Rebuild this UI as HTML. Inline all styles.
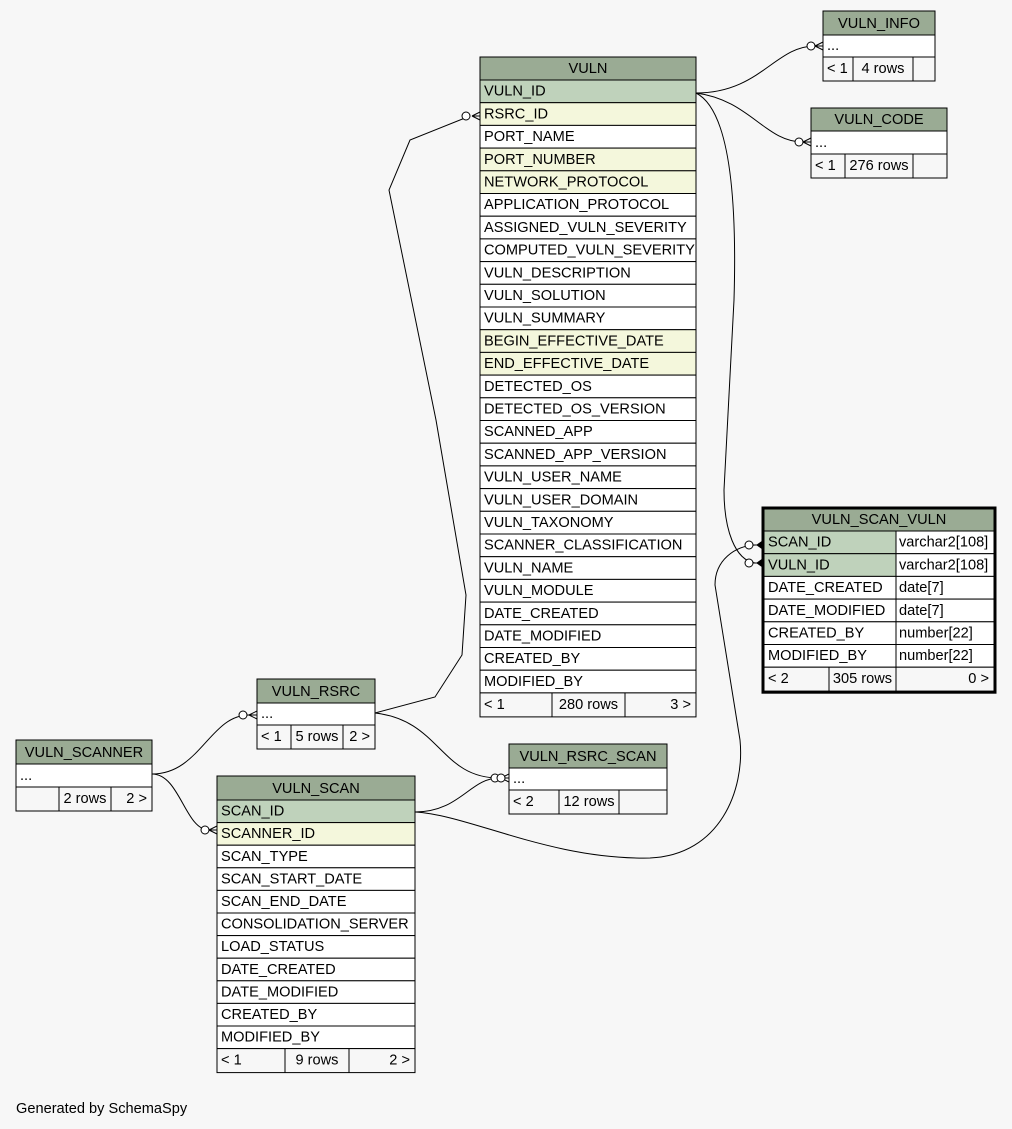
<!DOCTYPE html>
<html><head><meta charset="utf-8"><style>
html,body{margin:0;padding:0;background:#f7f7f7;}
svg{display:block;font-family:"Liberation Sans","DejaVu Sans",sans-serif;}
</style></head><body>
<svg id="s" width="1012" height="1129" viewBox="0 0 1012 1129" xmlns="http://www.w3.org/2000/svg">
<rect width="1012" height="1129" fill="#f7f7f7"/>
<g fill="none" stroke="#000" stroke-width="1">
<path d="M696,93 C760,93 775,46 815,46"/>
<path d="M696,93 C750,100 765,142 803,142"/>
<path d="M696,93 C730,110 737,200 734,300 L724,490 C724,530 735,560 755,563"/>
<path d="M375,713 L435,697 L462,655 L466,595 L436,420 L389,190 L410,140 L470,116"/>
<path d="M152,774 C200,774 210,715 249,715"/>
<path d="M152,774 C180,774 185,830 209,830"/>
<path d="M375,713 C440,720 440,778 499,778"/>
<path d="M415,812 C460,812 470,778 499,778"/>
<path d="M415,812 C470,815 550,860 650,858 C720,855 745,790 740,740 L715,585 C715,560 735,546 755,545"/>
</g>
<g id="marks" fill="#fff" stroke="#000"></g>
<text x="16" y="1113" font-size="14.6" fill="#000">Generated by SchemaSpy</text>
</svg>
<script>
const S=document.getElementById('s');const NS='http://www.w3.org/2000/svg';
const FS=14.6;
function el(t,a,txt,p){const e=document.createElementNS(NS,t);for(const k in a)e.setAttribute(k,a[k]);if(txt!=null)e.textContent=txt;(p||S).appendChild(e);return e;}
const HC='#9aab94',PK='#bfd2bb',FK='#f4f7dc',W='#fff',FT='#f7f7f7';
function table(o){
 const {x,w,y,hh,rows,rh,foot,fcols,name,bold,split}=o;
 let cy=y;
 el('rect',{x,y:cy,width:w,height:hh,fill:HC,stroke:'#000'});
 el('text',{x:x+w/2,y:cy+hh-7,'font-size':FS,'text-anchor':'middle'},name);
 cy+=hh;
 rows.forEach(r=>{
  const c=r[1]==='p'?PK:r[1]==='f'?FK:W;
  if(split){el('rect',{x,y:cy,width:split-x,height:rh,fill:c,stroke:'#000'});
   el('rect',{x:split,y:cy,width:x+w-split,height:rh,fill:W,stroke:'#000'});
   el('text',{x:split+3,y:cy+rh-7,'font-size':FS},r[2]);}
  else el('rect',{x,y:cy,width:w,height:rh,fill:c,stroke:'#000'});
  el('text',{x:x+4,y:cy+rh-7,'font-size':FS},r[0]);
  cy+=rh;});
 el('rect',{x,y:cy,width:w,height:24,fill:FT,stroke:'#000'});
 fcols.forEach(c=>el('line',{x1:c,y1:cy,x2:c,y2:cy+24,stroke:'#000'}));
 el('text',{x:x+4,y:cy+16,'font-size':FS},foot[0]);
 el('text',{x:(fcols[0]+fcols[1])/2,y:cy+16,'font-size':FS,'text-anchor':'middle'},foot[1]);
 el('text',{x:x+w-5,y:cy+16,'font-size':FS,'text-anchor':'end'},foot[2]);
 if(bold)el('rect',{x:x-1,y:y-1,width:w+2,height:cy+24-y+2,fill:'none',stroke:'#000','stroke-width':3});
}
const vr=[['VULN_ID','p'],['RSRC_ID','f'],['PORT_NAME'],['PORT_NUMBER','f'],['NETWORK_PROTOCOL','f'],['APPLICATION_PROTOCOL'],['ASSIGNED_VULN_SEVERITY'],['COMPUTED_VULN_SEVERITY'],['VULN_DESCRIPTION'],['VULN_SOLUTION'],['VULN_SUMMARY'],['BEGIN_EFFECTIVE_DATE','f'],['END_EFFECTIVE_DATE','f'],['DETECTED_OS'],['DETECTED_OS_VERSION'],['SCANNED_APP'],['SCANNED_APP_VERSION'],['VULN_USER_NAME'],['VULN_USER_DOMAIN'],['VULN_TAXONOMY'],['SCANNER_CLASSIFICATION'],['VULN_NAME'],['VULN_MODULE'],['DATE_CREATED'],['DATE_MODIFIED'],['CREATED_BY'],['MODIFIED_BY']];
table({x:480,w:216,y:57,hh:23,rows:vr,rh:22.7,foot:['< 1','280 rows','3 >'],fcols:[552,625],name:'VULN'});
table({x:823,w:112,y:11,hh:24,rows:[['...']],rh:22,foot:['< 1','4 rows',''],fcols:[853,913],name:'VULN_INFO'});
table({x:811,w:136,y:108,hh:23,rows:[['...']],rh:23,foot:['< 1','276 rows',''],fcols:[845,913],name:'VULN_CODE'});
table({x:764,w:230,y:509,hh:22,rows:[['SCAN_ID','p','varchar2[108]'],['VULN_ID','p','varchar2[108]'],['DATE_CREATED',0,'date[7]'],['DATE_MODIFIED',0,'date[7]'],['CREATED_BY',0,'number[22]'],['MODIFIED_BY',0,'number[22]']],rh:22.7,foot:['< 2','305 rows','0 >'],fcols:[829,896],name:'VULN_SCAN_VULN',bold:1,split:896});
table({x:257,w:118,y:679,hh:24,rows:[['...']],rh:22,foot:['< 1','5 rows','2 >'],fcols:[291,343],name:'VULN_RSRC'});
table({x:16,w:136,y:740,hh:24,rows:[['...']],rh:23,foot:['','2 rows','2 >'],fcols:[59,111],name:'VULN_SCANNER'});
table({x:217,w:198,y:776,hh:24,rows:[['SCAN_ID','p'],['SCANNER_ID','f'],['SCAN_TYPE'],['SCAN_START_DATE'],['SCAN_END_DATE'],['CONSOLIDATION_SERVER'],['LOAD_STATUS'],['DATE_CREATED'],['DATE_MODIFIED'],['CREATED_BY'],['MODIFIED_BY']],rh:22.6,foot:['< 1','9 rows','2 >'],fcols:[285,349],name:'VULN_SCAN'});
table({x:509,w:158,y:744,hh:24,rows:[['...']],rh:22,foot:['< 2','12 rows',''],fcols:[559,619],name:'VULN_RSRC_SCAN'});
const M=document.getElementById('marks');
function crow(ex,y,cx){
 el('circle',{cx,cy:y,r:4},null,M);
 const d=ex>cx?1:-1;const b=ex-d*8;
 el('path',{d:`M${b},${y} L${ex},${y-4} M${b},${y} L${ex},${y} M${b},${y} L${ex},${y+4}`,fill:'none'},null,M);
}
function one(ex,y,cx){el('circle',{cx,cy:y,r:4},null,M);
 el('path',{d:`M${cx+4},${y} L${ex},${y} M${ex},${y-5} L${ex-7},${y} L${ex},${y+5}Z`,fill:'#000'},null,M);}
crow(823,46,811);crow(811,142,799);crow(480,116,466);crow(257,715,243);crow(217,830,205);crow(509,778,495);
el('circle',{cx:501,cy:778,r:4},null,M);
one(764,545,749);one(764,563,749);
</script>
</body></html>
